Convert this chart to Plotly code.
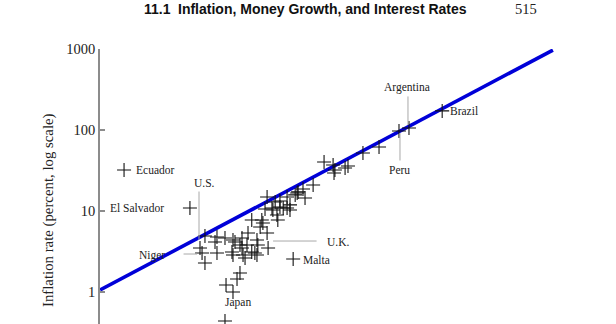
import math
import plotly.graph_objects as go

# ---------------- data ----------------
countries = [
    "", "", "", "", "", "", "", "", "", "",
    "", "", "", "", "", "", "", "", "", "",
    "", "", "", "", "", "", "", "", "", "",
    "", "", "", "", "", "", "", "", "", "",
    "", "U.K.", "Niger", "", "", "", "", "", "", "",
    "", "", "", "", "", "", "", "", "", "",
    "", "U.S.", "Japan", "Malta", "Ecuador", "El Salvador", "Brazil", "Argentina", "Peru",
]
money_growth = [
    70.7, 55.5, 44.3, 42.4, 30.9, 35.4, 36.4, 35.9, 26.2, 22.5,
    20.6, 23.2, 20.0, 17.7, 15.9, 14.8, 13.1, 12.7, 14.1, 15.9,
    16.7, 17.7, 18.5, 14.3, 15.2, 15.4, 12.1, 12.3, 10.4, 11.8,
    13.1, 9.83, 8.98, 7.84, 6.95, 6.16, 5.14, 8.71, 9.68, 11.25,
    11.4, 13.3, 4.92, 5.14, 6.16, 7.72, 7.84, 8.98, 9.12, 10.4,
    10.9, 11.25, 9.40, 5.98, 8.08, 8.71, 8.33, 7.06, 7.84, 18.5,
    20.9, 4.77, 6.95, 19.4, 1.52, 4.10, 183.0, 111.0, 95.5,
]
inflation = [
    61.7, 52.0, 35.9, 34.0, 40.3, 37.0, 32.1, 29.5, 20.9, 18.7,
    16.7, 14.5, 15.8, 14.9, 13.3, 12.9, 14.9, 10.6, 10.9, 11.2,
    10.9, 10.9, 10.3, 10.3, 8.93, 7.74, 7.74, 7.11, 7.74, 6.35,
    5.35, 5.35, 4.64, 4.39, 4.64, 4.78, 4.91, 3.80, 3.80, 4.39,
    3.80, 3.49, 3.03, 2.28, 3.03, 3.12, 2.86, 3.49, 2.86, 3.12,
    3.03, 2.86, 2.63, 4.14, 4.14, 1.72, 1.45, 1.22, 1.00, 11.9,
    17.2, 3.49, 0.438, 2.56, 32.1, 10.9, 172.0, 106.0, 97.2,
]
fit_x = [1.06, 970.0]
fit_y = [1.06, 970.0]
y_ticks = [1, 10, 100, 1000]
y_tick_text = ["1", "10", "100", "1000"]
y_title = "Inflation rate (percent, log scale)"
header_num = "11.1"
header_title = "Inflation, Money Growth, and Interest Rates"
page_num = "515"

# ---------------- layout geometry ----------------
W, H = 616, 324
L, R, T, B = 100, 16, 49, 0
PX_PER_DEC_X = 152.9
X_ONE_PX = 96.25
x_range = [(L - X_ONE_PX) / PX_PER_DEC_X, (W - R - X_ONE_PX) / PX_PER_DEC_X]
y_range = [-0.395, 3.0]

SERIF = "Liberation Serif, Times New Roman, serif"
SANS = "Liberation Sans, Arial, sans-serif"
LEADER = "#a8a8a8"


def px_to_paper(px, py):
    return (px - L) / (W - L - R), (H - B - py) / (H - T - B)


fig = go.Figure()
fig.add_trace(go.Scatter(
    x=fit_x, y=fit_y, mode="lines",
    line=dict(color="#0000d8", width=3.6),
    cliponaxis=False, hoverinfo="skip", showlegend=False,
))
fig.add_trace(go.Scatter(
    x=money_growth, y=inflation, mode="markers", text=countries,
    marker=dict(symbol="cross-thin", size=10, color="#111",
                line=dict(width=1.1, color="#111")),
    cliponaxis=False, showlegend=False,
))

# label placement (styles only): name -> (xanchor, xshift, yshift, leader head, leader tail)
label_style = {
    "Ecuador": ("left", 10, 0, None, None),
    "El Salvador": ("right", -24, 0, None, None),
    "Brazil": ("left", 6, 0, None, None),
    "Malta": ("left", 8, -1, None, None),
    "Japan": ("center", 13, 19, None, None),
    "Argentina": ("center", -2, 40, (-1, -3), (-1, -33)),
    "Peru": ("center", 1, -39, (1, 2), (1, 31)),
    "U.S.": ("center", 4, 65, (-1, -8), (-1, -58)),
    "Niger": ("right", -35, -2, (-5, 1), (-20, 1)),
    "U.K.": ("left", 57, 6, (5, -7), (50, -7)),
}

annotations = []
for name, xv, yv in zip(countries, money_growth, inflation):
    if not name:
        continue
    xa, xs, ys, head, tail = label_style[name]
    lx, ly = math.log10(xv), math.log10(yv)
    if head is not None:
        annotations.append(dict(
            x=lx, y=ly, xref="x", yref="y", text="", showarrow=True,
            arrowhead=0, arrowwidth=1, arrowcolor=LEADER,
            xshift=head[0], yshift=-head[1],
            ax=tail[0] - head[0], ay=tail[1] - head[1],
            standoff=0, startstandoff=0,
        ))
    annotations.append(dict(
        x=lx, y=ly, xref="x", yref="y", text=name, showarrow=False,
        xanchor=xa, yanchor="middle", xshift=xs, yshift=ys,
        font=dict(family=SERIF, size=11.5, color="#222"),
    ))

# axis title
tx, ty = px_to_paper(48, 210)
annotations.append(dict(
    x=tx, y=ty, xref="paper", yref="paper", text=y_title, showarrow=False,
    textangle=-90, xanchor="center", yanchor="middle",
    font=dict(family=SERIF, size=14.8, color="#222"),
))

# running header
hx, hy = px_to_paper(142, 9)
annotations.append(dict(
    x=hx, y=hy, xref="paper", yref="paper", text="<b>%s</b>" % header_num,
    showarrow=False, xanchor="left", yanchor="middle",
    font=dict(family=SANS, size=14, color="#111"),
))
hx2, _ = px_to_paper(176, 9)
annotations.append(dict(
    x=hx2, y=hy, xref="paper", yref="paper", text="<b>%s</b>" % header_title,
    showarrow=False, xanchor="left", yanchor="middle",
    font=dict(family=SANS, size=14, color="#111"),
))
px2, _ = px_to_paper(513, 9)
annotations.append(dict(
    x=px2, y=hy, xref="paper", yref="paper", text=page_num,
    showarrow=False, xanchor="left", yanchor="middle",
    font=dict(family=SERIF, size=14.5, color="#222"),
))

fig.update_layout(
    width=W, height=H,
    margin=dict(l=L, r=R, t=T, b=B, pad=0),
    paper_bgcolor="white", plot_bgcolor="white",
    annotations=annotations,
    xaxis=dict(type="log", range=x_range, visible=False, fixedrange=True),
    yaxis=dict(
        type="log", range=y_range, showgrid=False, zeroline=False,
        showline=True, linecolor="#8c8c8c", linewidth=1.5,
        ticks="inside", ticklen=5, tickwidth=1.5, tickcolor="#8c8c8c",
        tickvals=y_ticks, ticktext=y_tick_text,
        tickfont=dict(family=SERIF, size=14.5, color="#222"),
        fixedrange=True,
    ),
)

fig.write_html("out.html")
